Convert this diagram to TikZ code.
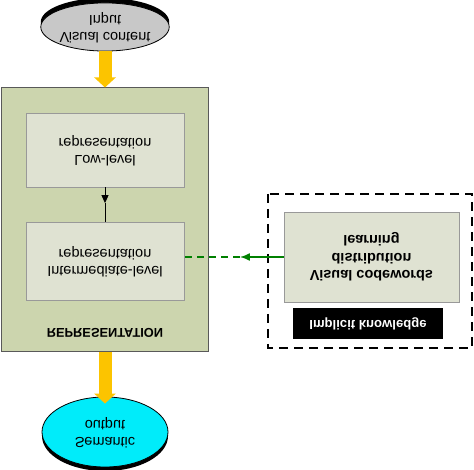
\documentclass[tikz,border=0pt]{standalone}
\usepackage{graphicx}
\usepackage{fontspec}
\setmainfont{Liberation Sans}
\usetikzlibrary{arrows.meta, positioning, shapes.geometric, shadows, calc}

\definecolor{repgreen}{RGB}{204,213,174}
\definecolor{boxgray}{RGB}{223,226,210}
\definecolor{ingray}{RGB}{200,200,200}
\definecolor{outcyan}{RGB}{0,236,250}
\definecolor{arrowgold}{RGB}{252,196,0}
\definecolor{codegreen}{RGB}{0,128,0}

% upside-down text, one or more lines
\newcommand{\upside}[1]{\scalebox{1}[-1]{\begin{tabular}{@{}c@{}}#1\end{tabular}}}

\begin{document}
\begin{tikzpicture}[x=1pt, y=-1pt,
    font=\fontsize{14.5}{17}\selectfont,
    oval/.style={ellipse, draw=black, thick, inner sep=0pt},
    repbox/.style={rectangle, draw=black!65, line width=1pt, fill=repgreen, minimum width=207pt, minimum height=264pt},
    level/.style={rectangle, draw=black!40, fill=boxgray, minimum width=158pt, inner sep=0pt},
    knowbox/.style={draw=black, line width=1.6pt, dash pattern=on 9pt off 6pt},
    fat/.style={line width=13pt, draw=arrowgold, -{Triangle[length=10pt, width=21pt]}},
    thin/.style={draw=black, line width=0.9pt},
    greenline/.style={draw=codegreen, line width=1.5pt}
    ]
    \useasboundingbox (0,0) rectangle (474,470);
    % Nodes
    \node[oval, fill=ingray, minimum width=104pt, minimum height=46pt,
        drop shadow={shadow xshift=0pt, shadow yshift=5pt, opacity=1, fill=black}] (in) at (105,27) {\upside{Visual content\\Input}};
    \node[repbox] (rep) at (105,220) {};
    \node[level, minimum height=74pt] (low) at (105,150) {\upside{Low-level\\representation}};
    \node[level, minimum height=78pt] (mid) at (105,261) {\upside{Intermediate-level\\representation}};
    \node[font=\fontsize{12.8}{15}\selectfont\bfseries, inner sep=0pt] (title) [above=13pt of rep.south] {\upside{REPRESENTATION}};
    \node[oval, fill=outcyan, minimum width=126pt, minimum height=70pt,
        drop shadow={shadow xshift=0pt, shadow yshift=-4pt, opacity=1, fill=black}] (out) at (105,432) {\upside{Semantic\\output}};
    \draw[knowbox] (268,194) rectangle (472,348);
    \node[level, minimum width=175pt, minimum height=90pt, font=\fontsize{14.5}{17.5}\selectfont\bfseries] (vis) at (371.5,257) {\upside{Visual codewords\\distribution\\learning}};
    \node[fill=black, text=white, minimum width=150pt, minimum height=31pt, inner sep=0pt,
        font=\fontsize{13.1}{15}\selectfont\bfseries] (imp) at (368,323.5) {\upside{Implicit knowledge}};
    \coordinate (ltip) at ($(low.south)!0.46!(mid.north)$);
    \coordinate (gtip) at ($(vis.west)!0.44!(vis.west -| mid.east)$);
    % Edges
    \path (in.south) edge [fat] (rep.north);
    \path (rep.south) edge [fat, shorten >=-7pt] (out.north);
    \path (low.south) edge [thin, -{Triangle[length=8pt, width=7pt]}] (ltip);
    \path (ltip) edge [thin] (mid.north);
    \path (vis.west) edge [greenline, -{Latex[length=10pt, width=8pt]}] (gtip);
    \path (gtip) edge [greenline, dash pattern=on 7pt off 5pt] (gtip -| mid.east);
\end{tikzpicture}
\end{document}
